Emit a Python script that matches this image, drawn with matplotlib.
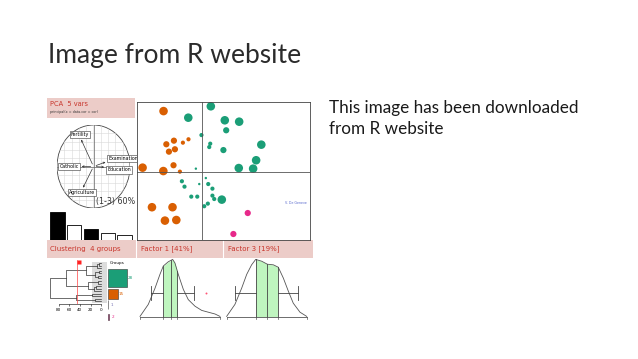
import numpy as np
import matplotlib.pyplot as plt
from matplotlib.patches import Rectangle, Circle

# ---- données ----
# nuage des individus (plan factoriel 1-3)
orange_x = [-1.92, -1.78, -1.40, -1.65, -1.35, -0.95, -0.67, -2.97, -1.93, -1.42, -1.10, -2.50, -1.47, -1.85, -1.28]
orange_y = [3.03, 1.37, 1.55, 1.00, 1.12, 1.45, 1.62, 0.20, 0.03, 0.32, 0.00, -1.78, -1.78, -2.45, -2.42]
orange_q = [4, 3, 3, 3, 3, 2, 2, 4, 4, 3, 2, 4, 4, 4, 4]
green_x = [0.45, -0.68, 1.15, 1.87, 1.22, -0.02, 0.42, 0.37, 1.08, 2.98, 2.72, 1.85, 2.57, -0.30,
           0.20, -1.00, -0.87, -0.13, 0.32, 0.53, -0.53, -0.23, 0.53, 0.62, 1.00, 0.30, 0.12]
green_y = [3.27, 2.70, 2.57, 2.50, 2.07, 1.83, 1.40, 1.23, 1.08, 1.35, 0.57, 0.18, 0.15, 0.15,
           -0.32, -0.48, -0.75, -0.62, -0.62, -0.85, -1.25, -1.25, -1.20, -1.37, -1.40, -1.60, -1.73]
green_q = [4, 4, 4, 4, 3, 2, 2, 2, 3, 4, 4, 4, 4, 1, 1, 2, 2, 1, 2, 2, 2, 2, 2, 2, 4, 2, 2]
pink_x = [2.30, 1.58]
pink_y = [-2.07, -3.12]
pink_q = [3, 3]

# cercle des corrélations
var_names = ['Fertility', 'Catholic', 'Examination', 'Education', 'Agriculture']
var_x = [-0.37, -0.40, 0.40, 0.37, -0.32]
var_y = [0.71, 0.00, 0.13, -0.02, -0.57]
eigen = [3.2, 1.7, 1.25, 0.8, 0.57]

# classification
group_names = ['1', '2', '3', '4']
group_sizes = [28, 15, 1, 2]
# fusions (hauteur, enfant1, enfant2) ; indices < 16 = feuilles
dend_h = [5, 9, 4, 7, 12, 28, 6, 10, 14, 25, 18, 12, 66, 48, 95]
dend_a = [0, 16, 3, 5, 18, 17, 7, 9, 23, 22, 12, 14, 21, 26, 28]
dend_b = [1, 2, 4, 6, 19, 20, 8, 10, 11, 24, 13, 15, 25, 27, 29]
n_leaves = 16
cut_h = 45

# densités des facteurs
f1_x = np.array([-2.58, -1.89, -1.33, -0.92, -0.64, -0.23, 0.14, 0.33, 0.61, 1.03, 1.44, 2.0, 2.56, 3.11, 3.67, 4.08])
f1_d = np.array([0.01, 0.21, 0.48, 0.71, 0.85, 0.92, 0.96, 0.90, 0.71, 0.46, 0.29, 0.18, 0.11, 0.08, 0.05, 0.01])
f1_quart = [-0.64, 0.0, 0.53]
f1_whisk = [-1.67, 1.92]
f1_out = [2.89]
f3_x = np.array([-3.36, -2.67, -2.11, -1.69, -1.28, -0.94, -0.44, 0.03, 0.53, 0.94, 1.36, 1.78, 2.19, 2.75, 3.31])
f3_d = np.array([0.01, 0.21, 0.48, 0.71, 0.87, 0.96, 0.93, 0.88, 0.87, 0.83, 0.65, 0.43, 0.23, 0.08, 0.01])
f3_quart = [-0.94, 0.03, 0.89]
f3_whisk = [-2.67, 2.61]
f3_out = []

# ---- styles ----
W, H = 638, 359
PINK = '#ecccc8'
RED = '#c8352c'
C_OR, C_GR, C_PU, C_PK = '#d95f02', '#1b9e77', '#7570b3', '#e7298a'
NARROW = ['Liberation Sans Narrow', 'DejaVu Sans']
SLIDE = ['Lato', 'DejaVu Sans']
qsize = {1: 3, 2: 9, 3: 20, 4: 38}

fig = plt.figure(figsize=(W / 100, H / 100), dpi=100)


def add_ax(x0, y0, x1, y1):
    return fig.add_axes([x0 / W, 1 - y1 / H, (x1 - x0) / W, (y1 - y0) / H])


# fond (coordonnées en pixels)
bg = fig.add_axes([0, 0, 1, 1])
bg.set_xlim(0, W)
bg.set_ylim(H, 0)
bg.axis('off')
bg.text(48, 63, 'Image from R website', family=SLIDE, fontsize=19, color='#2b2b2b', va='baseline')
bg.text(329, 113, 'This image has been downloaded', family=SLIDE, fontsize=12.3, color='#1a1a1a', va='baseline')
bg.text(329, 134, 'from R website', family=SLIDE, fontsize=12.3, color='#1a1a1a', va='baseline')
bg.add_patch(Rectangle((47, 98), 88, 20, color=PINK, lw=0))
bg.add_patch(Rectangle((47, 240), 266, 18, color=PINK, lw=0))
bg.plot([136, 136], [240, 258], color='white', lw=0.8)
bg.plot([223, 223], [240, 258], color='white', lw=0.8)
bg.text(50, 104.5, 'PCA  5 vars', family=NARROW, fontsize=4.8, color=RED, va='center')
bg.text(50, 112, 'principal(x = data.cor = cor)', family=NARROW, fontsize=2.4, color='#333333', va='center')
bg.text(50, 249, 'Clustering  4 groups', family=NARROW, fontsize=5, color=RED, va='center')
bg.text(141, 249, 'Factor 1 [41%]', family=NARROW, fontsize=5, color=RED, va='center')
bg.text(228, 249, 'Factor 3 [19%]', family=NARROW, fontsize=5, color=RED, va='center')

# cercle des corrélations
ax = add_ax(57, 125, 130, 208)
ax.set_xlim(-1, 1)
ax.set_ylim(-1, 1)
ax.axis('off')
circ = Circle((0, 0), 1, fill=False, ec='#444444', lw=0.6)
ax.add_patch(circ)
for g in np.arange(-0.8, 0.81, 0.2):
    l1, = ax.plot([g, g], [-1, 1], color='#d8d8d8', lw=0.4)
    l2, = ax.plot([-1, 1], [g, g], color='#d8d8d8', lw=0.4)
    l1.set_clip_path(circ)
    l2.set_clip_path(circ)
ax.plot([0, 0], [-1, 1], color='#666666', lw=0.5)
ax.plot([-1, 1], [0, 0], color='#666666', lw=0.5)
align = [('center', 'bottom'), ('right', 'center'), ('left', 'bottom'), ('left', 'top'), ('center', 'top')]
for name, vx, vy, (ha, va) in zip(var_names, var_x, var_y, align):
    ax.annotate('', xy=(vx, vy), xytext=(0, 0),
                arrowprops=dict(arrowstyle='->', lw=0.5, color='#333333', mutation_scale=3))
    ax.text(vx, vy, name, family=NARROW, fontsize=3.4, ha=ha, va=va,
            bbox=dict(boxstyle='square,pad=0.25', fc='white', ec='#333333', lw=0.4))
ax.text(1.15, -0.85, '(1-3) 60%', family=NARROW, fontsize=5.8, color='#333333', ha='right', va='center')

# valeurs propres
ax = add_ax(49, 205, 133, 240)
ax.bar(range(len(eigen)), eigen, width=0.86, color=['black', 'white', 'black', 'white', 'white'],
       edgecolor='black', lw=0.6)
ax.set_xlim(-0.5, len(eigen) - 0.5)
ax.set_ylim(0, 4.0)
ax.axis('off')

# nuage des individus
ax = add_ax(137, 101.7, 310, 240)
ax.axvline(0, color='#555555', lw=0.6)
ax.axhline(0, color='#555555', lw=0.6)
for xs, ys, qs, c in [(orange_x, orange_y, orange_q, C_OR), (green_x, green_y, green_q, C_GR),
                      (pink_x, pink_y, pink_q, C_PK)]:
    ax.scatter(xs, ys, s=[qsize[q] for q in qs], color=c, lw=0)
ax.text(4.7, -1.55, 'V. De Geneve', family=NARROW, fontsize=2.3, color='#5566cc', ha='center', va='center')
ax.set_xlim(-3.25, 5.42)
ax.set_ylim(-3.42, 3.5)
ax.set_xticks([])
ax.set_yticks([])
for s in ax.spines.values():
    s.set_color('#444444')
    s.set_linewidth(0.6)

# dendrogramme
ax = add_ax(47, 260, 107, 304)
ax.set_xlim(101.5, -10.6)
ax.set_ylim(16, -1.2)
ax.add_patch(Rectangle((-10, -0.6), 27, 16.2, color='#dcdcdc', lw=0))
pos = {i: (0.0, float(i)) for i in range(n_leaves)}
for k, (h, a, b) in enumerate(zip(dend_h, dend_a, dend_b)):
    ha_, ya = pos[a]
    hb, yb = pos[b]
    ax.plot([ha_, h, h, hb], [ya, ya, yb, yb], color='#333333', lw=0.5)
    pos[n_leaves + k] = (h, (ya + yb) / 2)
ax.axvline(cut_h, color='#ff4444', lw=0.5)
ax.plot([cut_h - 3], [-0.6], marker='s', ms=2.5, color='#ff2222', mec='none')
for s in ['top', 'right', 'left']:
    ax.spines[s].set_visible(False)
ax.spines['bottom'].set_bounds(0, 80)
ax.spines['bottom'].set_linewidth(0.4)
ax.set_yticks([])
ax.set_xticks([80, 60, 40, 20, 0])
ax.tick_params(axis='x', length=1.5, width=0.4, labelsize=3, pad=1.5)
ax.patch.set_alpha(0)

# effectifs des groupes
ax = add_ax(107.7, 258, 140, 322)
ax.set_xlim(0, 47)
ax.set_ylim(322, 258)
gy = [278, 294, 304.5, 317]
gh = [18, 10, 9, 6]
gcol = [C_GR, C_OR, C_PU, C_PK]
ax.barh(gy, group_sizes, height=gh, color=gcol, edgecolor='#333333', lw=0.4)
for n, y, c in zip(group_sizes, gy, gcol):
    ax.text(n + 1.5 + (2 if n < 5 else 0), y, str(n), family=NARROW, fontsize=3, color=c, va='center')
ax.text(13, 263, 'Groups', family=NARROW, fontsize=3, ha='center', va='center')
ax.axis('off')


# densités
def factor_panel(ax, xs, ds, quart, whisk, out, xlim):
    ax.set_xlim(xlim)
    ax.set_ylim(-0.05, 1.017)
    ax.axis('off')
    inner = (xs > quart[0]) & (xs < quart[2])
    bx = np.concatenate([[quart[0]], xs[inner], [quart[2]]])
    ax.fill_between(bx, 0, np.interp(bx, xs, ds), color='#bff5bf', lw=0)
    ax.plot(xs, ds, color='#555555', lw=0.6)
    for v in quart:
        ax.plot([v, v], [0, np.interp(v, xs, ds)], color='#444444', lw=0.6)
    ax.plot([xs[0], xs[-1]], [0, 0], color='#555555', lw=0.6)
    for t in [xs[0]] + list(quart) + [xs[-1]]:
        ax.plot([t, t], [0, -0.035], color='#555555', lw=0.5)
    by = 0.40
    ax.plot([whisk[0], quart[0]], [by, by], color='#444444', lw=0.6)
    ax.plot([quart[2], whisk[1]], [by, by], color='#444444', lw=0.6)
    for w in whisk:
        ax.plot([w, w], [by - 0.11, by + 0.11], color='#444444', lw=0.6)
    if out:
        ax.scatter(out, [by] * len(out), s=2, color='#ff5577', lw=0)


factor_panel(add_ax(137, 256, 222, 320), f1_x, f1_d, f1_quart, f1_whisk, f1_out, (-2.83, 4.25))
factor_panel(add_ax(224, 256, 312, 320), f3_x, f3_d, f3_quart, f3_whisk, f3_out, (-3.58, 3.75))

fig.savefig('out.png', dpi=100)
